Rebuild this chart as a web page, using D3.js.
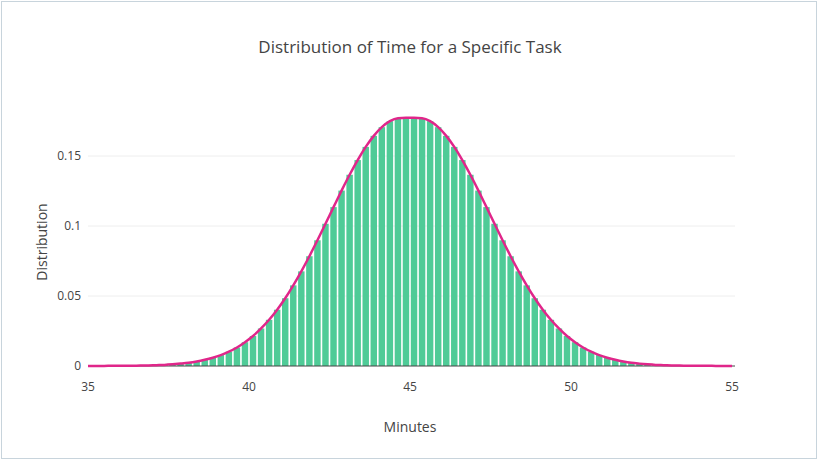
<!DOCTYPE html>
<html><head><meta charset="utf-8">
<script src="https://cdn.jsdelivr.net/npm/d3@7"></script>
<style>body{margin:0;background:#fff}text{font-family:"Open Sans",sans-serif;fill:#444}</style>
</head><body><svg id="chart" width="819" height="461"></svg>
<script>
// bins of 0.25 minutes from 35 to 55
const binStarts = d3.range(80).map(i => 35 + i * 0.25)
const binValues = [
  0.0000,0.0000,0.0001,0.0001,0.0001,0.0002,0.0003,0.0004,0.0006,0.0008,
  0.0012,0.0017,0.0023,0.0032,0.0044,0.0059,0.0078,0.0102,0.0132,0.0170,
  0.0214,0.0268,0.0330,0.0402,0.0484,0.0576,0.0676,0.0784,0.0898,0.1016,
  0.1135,0.1253,0.1366,0.1471,0.1565,0.1644,0.1706,0.1749,0.1770,0.1773,
  0.1773,0.1770,0.1749,0.1706,0.1644,0.1565,0.1471,0.1366,0.1253,0.1135,
  0.1016,0.0898,0.0784,0.0676,0.0576,0.0484,0.0402,0.0330,0.0268,0.0214,
  0.0170,0.0132,0.0102,0.0078,0.0059,0.0044,0.0032,0.0023,0.0017,0.0012,
  0.0008,0.0006,0.0004,0.0003,0.0002,0.0001,0.0001,0.0001,0.0000,0.0000
]
const xTicks = [35, 40, 45, 50, 55]
const yTicks = [0, 0.05, 0.1, 0.15]
const yTickLabels = ["0", "0.05", "0.1", "0.15"]

let svg = d3.select("#chart")
svg.append("rect").attr("x",1.5).attr("y",1.5).attr("width",815).attr("height",457)
  .attr("fill","none").attr("stroke","#c8d4dc")

let x = d3.scaleLinear().domain([35,55]).range([88,732])
let y = d3.scaleLinear().domain([0,0.05]).range([366,296])

//gridlines
svg.append("g").selectAll("line").data(yTicks.slice(1)).enter().append("line")
  .attr("x1",88).attr("x2",735).attr("y1",d=>y(d)).attr("y2",d=>y(d))
  .attr("stroke","#eee")

//bars
svg.append("g").selectAll("rect").data(binStarts).enter().append("rect")
  .attr("x",d=>x(d)+0.8).attr("width",d=>x(d+0.25)-x(d)-1.6)
  .attr("y",(d,i)=>y(binValues[i])).attr("height",(d,i)=>y(0)-y(binValues[i]))
  .attr("fill","#4fcb97")

//zero line
svg.append("line").attr("x1",88).attr("x2",735).attr("y1",y(0)).attr("y2",y(0)).attr("stroke","#444")

//curve
let pts = [[35,0]].concat(binStarts.map((d,i)=>[d+0.125,binValues[i]])).concat([[55,0]])
svg.append("path").datum(pts)
  .attr("d", d3.line().x(d=>x(d[0])).y(d=>y(d[1])).curve(d3.curveMonotoneX))
  .attr("fill","none").attr("stroke","#e0268a").attr("stroke-width",2.5)

//ticks
svg.append("g").selectAll("text").data(xTicks).enter().append("text")
  .attr("x",d=>x(d)).attr("y",391).attr("text-anchor","middle").attr("font-size",12).text(d=>d)
svg.append("g").selectAll("text").data(yTicks).enter().append("text")
  .attr("x",81).attr("y",d=>y(d)+4).attr("text-anchor","end").attr("font-size",12).text((d,i)=>yTickLabels[i])

//titles
svg.append("text").attr("x",410).attr("y",53).attr("text-anchor","middle").attr("font-size",17).text("Distribution of Time for a Specific Task")
svg.append("text").attr("x",410).attr("y",432).attr("text-anchor","middle").attr("font-size",14).text("Minutes")
svg.append("text").attr("transform","translate(47,242) rotate(-90)").attr("text-anchor","middle").attr("font-size",14).text("Distribution")
</script></body></html>
